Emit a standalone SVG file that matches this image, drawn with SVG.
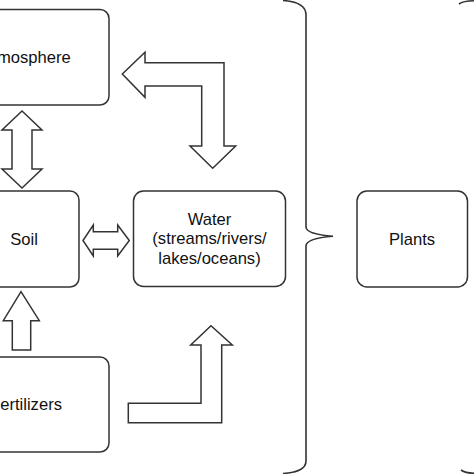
<svg xmlns="http://www.w3.org/2000/svg" width="474" height="474" viewBox="0 0 474 474">
<style>
.box{fill:#fff;stroke:#333;stroke-width:1.5}
.arr{fill:#fff;stroke:#333;stroke-width:1.5;stroke-linejoin:miter}
.lbl{font-family:"Liberation Sans",Arial,sans-serif;font-size:16.6px;fill:#111;text-anchor:middle}
.br{fill:none;stroke:#333;stroke-width:1.6}
</style>
<rect width="474" height="474" fill="#fff"/>
<g id="atmosphere">
<rect class="box" x="-57" y="9.5" width="166" height="95.5" rx="9"/>
<text class="lbl" x="26" y="63">Atmosphere</text>
</g>
<g id="soil">
<rect class="box" x="-31" y="191" width="110" height="96" rx="9"/>
<text class="lbl" x="24" y="245">Soil</text>
</g>
<g id="water">
<rect class="box" x="133.5" y="191" width="152" height="95.5" rx="10"/>
<text class="lbl" x="209.5" y="224.5">Water</text>
<text class="lbl" x="209.5" y="244">(streams/rivers/</text>
<text class="lbl" x="209.5" y="263.5">lakes/oceans)</text>
</g>
<g id="plants">
<rect class="box" x="357" y="191" width="110.5" height="96" rx="10"/>
<text class="lbl" x="412" y="245">Plants</text>
</g>
<g id="fertilizers">
<rect class="box" x="-57" y="357" width="166" height="95" rx="9"/>
<text class="lbl" x="26" y="410">Fertilizers</text>
</g>
<g id="connectors">
<polygon class="arr" points="22,111 42,130 32,130 32,169 42,169 22,188 2,169 12,169 12,130 2,130"/>
<polygon class="arr" points="122.3,74 145,52.3 145,62.7 224,62.7 224,146 235.7,146 212.7,168.3 190,146 201.7,146 201.7,86 145,86 145,97.3"/>
<polygon class="arr" points="83,240.5 93.3,225 93.3,231.7 117.7,231.7 117.7,225 129.3,240.5 117.7,256 117.7,249.3 93.3,249.3 93.3,256"/>
<polygon class="arr" points="21,291.7 39.3,320.7 30.7,320.7 30.7,350 12.3,350 12.3,320.7 3.3,320.7"/>
<polygon class="arr" points="128.3,403.3 201,403.3 201,345 190.7,345 211,325.7 232.3,345 221.7,345 221.7,422.7 128.3,422.7"/>
<path class="br" d="M283,0.5 Q306,2 306,15 L306,227 Q306,234 333,236.3 Q306,238.5 306,246 L306,461 Q306,472 283,473.5"/>
<path class="br" d="M459,4 Q463,1 474,0.8"/>
<path class="br" d="M461,470 Q465,473 474,473.3"/>
</g>
</svg>
